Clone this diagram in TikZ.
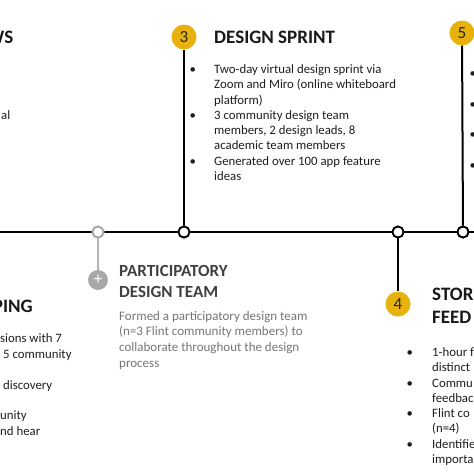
\documentclass[tikz,border=0pt]{standalone}
\usepackage{fontspec}
\setmainfont{Carlito}
\usepackage{xcolor}
\usepackage{tikz}
\usetikzlibrary{positioning}
\usepackage{array}

\definecolor{stepgold}{RGB}{232,178,14}
\definecolor{stepgray}{RGB}{168,168,168}
\definecolor{headgray}{RGB}{64,64,64}
\definecolor{bodygray}{RGB}{118,118,118}
\definecolor{bodyblack}{RGB}{30,30,30}

\tikzset{
  dot/.style={circle,draw=black,fill=white,line width=1.8pt,minimum size=11pt,inner sep=0pt},
  graydot/.style={dot,draw=stepgray},
  numdot/.style={circle,fill=stepgold,minimum size=25pt,inner sep=0pt,font=\fontsize{17}{17}\selectfont,text=black!85},
  plusdot/.style={circle,fill=stepgray,minimum size=20pt,inner sep=0pt,text=white,font=\fontsize{17}{17}\selectfont},
  head/.style={font=\fontsize{19}{21}\selectfont\bfseries,text=black!90,inner sep=0pt,align=left},
  body/.style={font=\fontsize{12.8}{15.3}\selectfont,text=bodyblack,inner sep=0pt,align=left},
}

\begin{document}
\begin{tikzpicture}[x=1pt,y=1pt,yscale=-1]
\useasboundingbox (0,0) rectangle (474,474);
\clip (0,0) rectangle (474,474);
\fill[white] (0,0) rectangle (474,474);

%Timeline
\coordinate (tl) at (0,232);
\coordinate (tr) at (474,232);
\draw [line width=2.3pt] (tl) -- (tr);

%Stop nodes on the line
\node [graydot] (d2) at (98,232) {};
\node [dot] (d3) at (184,232) {};
\node [dot] (d4) at (398,232) {};
\node [dot] (d5) at (463,232) {};

%Markers
\node [plusdot] (p2) at (98,280) {+};
\node [numdot] (n3) at (184,37) {3};
\node [numdot] (n4) at (398,304) {4};
\node [numdot] (n5) at (462,33) {5};

%Stems
\draw [line width=2pt,stepgray!85] (d2) -- (p2);
\draw [line width=2pt] (d3) -- (n3);
\draw [line width=2pt] (d4) -- (n4);
\draw [line width=2pt] (d5) -- (n5);
\node [graydot] at (d2) {};
\node [dot] at (d3) {};
\node [dot] at (d4) {};
\node [dot] at (d5) {};

% Text Node
\node [head,anchor=base east] (ws) at (13.5,43.5) {WS};
% Text Node
\node [body,anchor=base east] (al) at (10.5,119) {al};

% Text Node
\node [head,anchor=base west] (sprint) at (214,43.5) {DESIGN SPRINT};
% Text Node
\node [body,anchor=north west] (sprintlist) at (189.5,62.5) {%
\begin{tabular}{@{}>{\raggedright}p{24.5pt}@{}l@{}}
\textbullet & Two-day virtual design sprint via\\
 & Zoom and Miro (online whiteboard\\
 & platform)\\
\textbullet & 3 community design team\\
 & members, 2 design leads, 8\\
 & academic team members\\
\textbullet & Generated over 100 app feature\\
 & ideas
\end{tabular}};

% Text Node
\foreach \yy in {75,105.5,136,167}
  \node [body,anchor=west] at (469.5,\yy) {\textbullet};

% Text Node
\node [head,anchor=base west,text=headgray,font=\fontsize{17}{21}\selectfont\bfseries] (pdt) at (119,297) {PARTICIPATORY\\DESIGN TEAM};
% Text Node
\node [body,anchor=north west,text=bodygray,font=\fontsize{13}{15.6}\selectfont] (pdtbody) at (119,311) {Formed  a participatory design team\\(n=3 Flint community  members) to\\collaborate throughout  the design\\process};

% Text Node
\node [head,anchor=base west] (story) at (432,323) {STOR\\[2pt]FEED};
% Text Node
\node [body,anchor=north west] (storylist) at (406.5,345.5) {%
\begin{tabular}{@{}>{\raggedright}p{25.5pt}@{}l@{}}
\textbullet & 1-hour f\\
 & distinct\\
\textbullet & Commu\\
 & feedbac\\
\textbullet & Flint co\\
 & (n=4)\\
\textbullet & Identifie\\
 & importa
\end{tabular}};

% Text Node
\node [head,anchor=base east] (ping) at (33,312) {PING};
% Text Node
\node [body,anchor=base west] (l1) at (0,342) {sions with 7};
\node [body,anchor=base west] (l2) at (3,358) {5 community};
\node [body,anchor=base west] (l3) at (3,389) {discovery};
\node [body,anchor=base west] (l4) at (0,419) {unity};
\node [body,anchor=base west] (l5) at (0,435) {nd hear};

\end{tikzpicture}
\end{document}
